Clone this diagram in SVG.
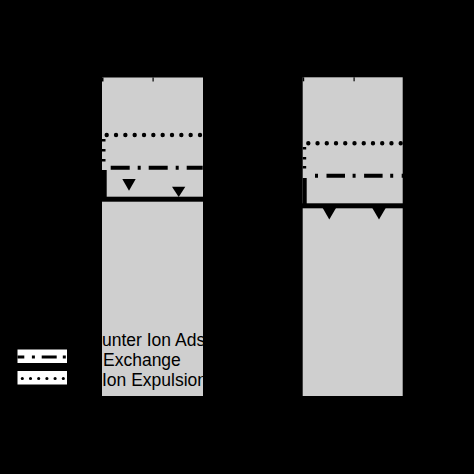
<svg xmlns="http://www.w3.org/2000/svg" width="474" height="474" viewBox="0 0 474 474">
<style>
.panel{fill:#cfcfcf}
.dot{stroke:#000;stroke-linecap:round;fill:none}
.dd{stroke:#000;stroke-width:4;fill:none}
.tri{fill:#000}
.tick{fill:#000}
.lbl{font-family:"Liberation Sans",Arial,sans-serif;font-size:17.5px;fill:#000}
</style>
<rect x="0" y="0" width="474" height="474" fill="#000"/>
<g id="panel-left">
<rect class="panel" x="102" y="77.5" width="101" height="318.5"/>
<rect class="tick" x="102" y="77.5" width="1.5" height="4"/>
<rect class="tick" x="152.5" y="77.5" width="1.2" height="4"/>
<rect class="tick" x="102" y="139" width="3.5" height="2.5"/>
<rect class="tick" x="102" y="149" width="3.5" height="2.5"/>
<rect class="tick" x="102" y="159" width="3.5" height="2.5"/>
<rect class="tick" x="102" y="170" width="4.7" height="28"/>
<line class="dot" x1="106.7" y1="135" x2="201" y2="135" stroke-width="4.4" stroke-dasharray="0 9.33"/>
<line class="dd" x1="110.7" y1="167.7" x2="202.7" y2="167.7" stroke-dasharray="19 8 3 8"/>
<polygon class="tri" points="122.3,179 135.7,179 129,190.7"/>
<polygon class="tri" points="172,186.7 185.3,186.7 178.7,197"/>
<rect x="100" y="196.7" width="105" height="5" fill="#000"/>
</g>
<g id="panel-right">
<rect class="panel" x="302.7" y="77.3" width="100" height="318.7"/>
<rect class="tick" x="302.7" y="77.3" width="1.5" height="4"/>
<rect class="tick" x="353.5" y="77.3" width="1.2" height="4"/>
<rect class="tick" x="302.7" y="147" width="3.5" height="2.5"/>
<rect class="tick" x="302.7" y="157" width="3.5" height="2.5"/>
<rect class="tick" x="302.7" y="166" width="3.5" height="2.5"/>
<rect class="tick" x="302.7" y="178" width="4" height="26"/>
<line class="dot" x1="308.3" y1="143.3" x2="401" y2="143.3" stroke-width="4.4" stroke-dasharray="0 9.24"/>
<line class="dd" x1="315" y1="175.7" x2="403" y2="175.7" stroke-dasharray="3 8.5 18.5 7.6"/>
<rect x="300" y="203.3" width="105" height="5" fill="#000"/>
<polygon class="tri" points="322.7,208 336,208 329.3,219.5"/>
<polygon class="tri" points="372.3,208 385.7,208 379,219.5"/>
</g>
<g id="legend">
<rect x="17.5" y="349.5" width="49.5" height="13.5" fill="#fff"/>
<path d="M17.5 357H24.3M31.9 357H34.9M41.7 357H56.7M62.8 357H65.8" stroke="#000" stroke-width="3" fill="none"/>
<rect x="17.5" y="371" width="49.5" height="13.5" fill="#fff"/>
<line class="dot" x1="22.3" y1="378.5" x2="64" y2="378.5" stroke-width="3.2" stroke-dasharray="0 8.2"/>
<text class="lbl" x="102" y="345.5">unter Ion Ads</text>
<text class="lbl" x="103" y="365.5">Exchange</text>
<text class="lbl" x="102" y="385.5">Ion Expulsion</text>
</g>
<g id="connectors"></g>
</svg>
